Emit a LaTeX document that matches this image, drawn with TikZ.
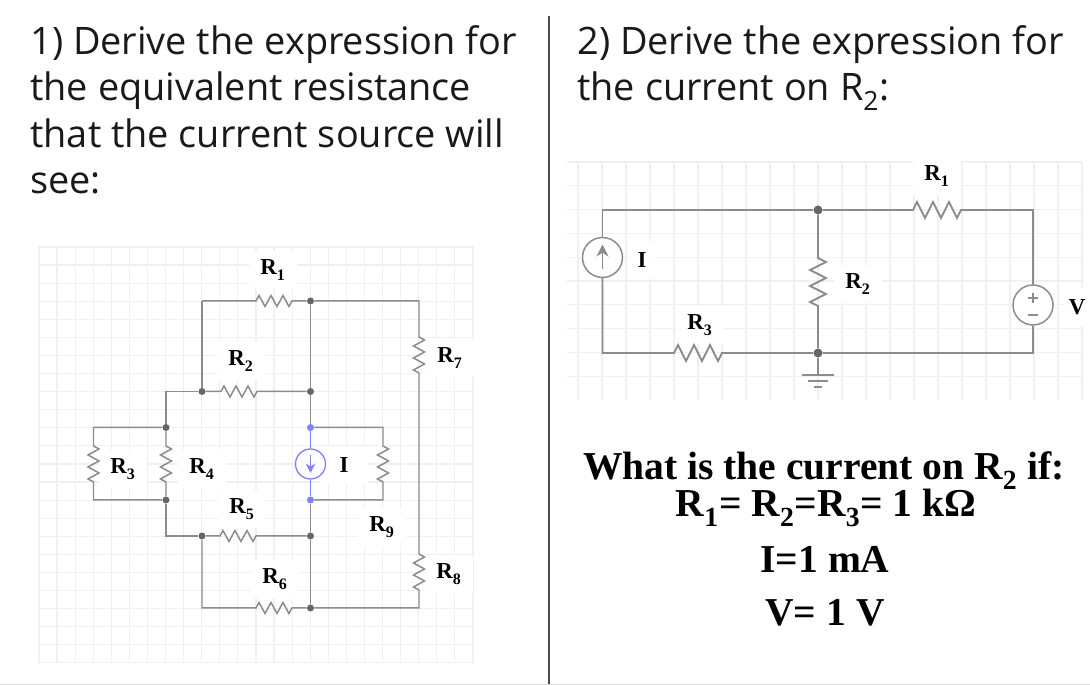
\documentclass[tikz,border=0pt]{standalone}
\usepackage{fontspec}
\usepackage{xcolor}
\usepackage{tikz}
\usetikzlibrary{decorations.pathmorphing,arrows.meta}
\setmainfont{Liberation Serif}
\newfontfamily\headfont{Open Sans}
\definecolor{wirecol}{HTML}{8C8C8C}
\definecolor{dotcol}{HTML}{666666}
\definecolor{srccol}{HTML}{8080FF}
\definecolor{gridcol}{HTML}{F0F0F0}
\tikzset{
    gridline/.style={draw=gridcol,line width=0.7pt},
    wire/.style={draw=wirecol,line width=0.85pt},
    widewire/.style={draw=wirecol,line width=1.05pt},
    bluewire/.style={draw=srccol,line width=0.85pt},
    dot/.style={circle,fill=dotcol,inner sep=0pt,minimum size=0.14cm},
    bigdot/.style={circle,fill=dotcol,inner sep=0pt,minimum size=0.18cm},
    bluedot/.style={circle,fill=srccol,inner sep=0pt,minimum size=0.14cm},
    zigsmall/.style={decoration={zigzag,segment length=0.2399cm,amplitude=0.11cm}},
    zigbig/.style={decoration={zigzag,segment length=0.3199cm,amplitude=0.16cm}},
    lab/.style={fill=white,font=\fontsize{13}{15}\selectfont\bfseries,inner sep=0pt,minimum width=0.96cm,minimum height=0.76cm,yshift=-0.04cm},
    head/.style={anchor=north west,align=left,inner sep=0pt,text=black!90,font=\fontsize{21.55}{26.4}\selectfont\headfont},
    quest/.style={anchor=base,inner sep=0pt,font=\fontsize{22.5}{25}\selectfont\bfseries},
}
\newcommand{\Dsub}[1]{\textsubscript{\raisebox{-0.3ex}{#1}}}
\newcommand{\Rsub}[1]{R\Dsub{#1}}

\begin{document}
\begin{tikzpicture}[x=0.02cm,y=-0.02cm]
    \useasboundingbox (0,0) rectangle (1090,685);
    % grids
    \foreach \i in {0,...,24} \draw[gridline] ({39+18.08*\i},247)--({39+18.08*\i},663);
    \foreach \i in {0,...,23} \draw[gridline] (39,{247+18.08*\i})--(473,{247+18.08*\i});
    \foreach \i in {0,...,21} \draw[gridline] ({578+24*\i},162)--({578+24*\i},400);
    \foreach \i in {0,...,9} \draw[gridline] (567,{162+23.8*\i})--(1082,{162+23.8*\i});

    % question text
    \node[head] (q1) at (30,25) {1) Derive the expression for\\the equivalent resistance\\that the current source will\\see:};
    \node[head] (q2) at (577,25) {2) Derive the expression for\\the current on \Rsub{2}:};
    \coordinate (divtop) at (549,16);
    \coordinate (divbot) at (549,684);
    \draw[line width=0.6pt,draw=black!70] (divtop)--(divbot);
    \coordinate (edgel) at (0,684.5);
    \coordinate (edger) at (1090,684.5);
    \draw[draw=black!15,line width=0.6pt] (edgel)--(edger);

    % first circuit labels
    \node[lab] (lr1) at (273,268) {\Rsub{1}};
    \node[lab] (lr2) at (241,359) {\Rsub{2}};
    \node[lab] (lr3) at (123,467) {\Rsub{3}};
    \node[lab] (lr4) at (202,467) {\Rsub{4}};
    \node[lab] (lr5) at (242,507) {\Rsub{5}};
    \node[lab] (lr6) at (275,577) {\Rsub{6}};
    \node[lab] (lr7) at (450,356) {\Rsub{7}};
    \node[lab] (lr8) at (449,572) {\Rsub{8}};
    \node[lab] (lr9) at (382,525) {\Rsub{9}};
    \node[lab] (li) at (344,463) {I};

    % first circuit points
    \node[dot] (n1) at (310.5,301) {};
    \node[dot] (n2) at (310.5,391.5) {};
    \node[bluedot] (b1) at (310.5,427.5) {};
    \node[bluedot] (b2) at (310.5,500) {};
    \node[dot] (n4) at (310.5,536) {};
    \node[dot] (n5) at (310.5,608) {};
    \node[dot] (n6) at (202,391.5) {};
    \node[dot] (n7) at (166,427.5) {};
    \node[dot] (n8) at (166,500) {};
    \node[dot] (n9) at (202,536) {};
    \coordinate (a1) at (202,301);
    \coordinate (c1) at (419,301);
    \coordinate (c2) at (419,608);
    \coordinate (c3) at (383,427.5);
    \coordinate (c4) at (383,500);
    \coordinate (c5) at (166,391.5);
    \coordinate (c6) at (93.5,427.5);
    \coordinate (c7) at (93.5,500);
    \coordinate (c8) at (166,536);
    \coordinate (c9) at (202,608);
    \node[circle,draw=srccol,fill=white,line width=0.75pt,inner sep=0pt,minimum size=0.6cm] (is1) at (310.5,464) {};

    % first circuit wires
    \draw[wire] (a1)--(256,301) decorate[zigsmall]{--(292,301)}--(n1);
    \draw[wire] (n1)--(n2);
    \draw[wire] (n2)--(b1);
    \draw[bluewire] (b1)--(is1);
    \draw[bluewire] (is1)--(b2);
    \draw[bluewire,-{Stealth[length=0.19cm,width=0.19cm]}] ([yshift=0.18cm]is1.center)--([yshift=-0.18cm]is1.center);
    \draw[wire] (b2)--(n4);
    \draw[wire] (n4)--(n5);
    \draw[wire] (n1)--(c1)--(419,337) decorate[zigsmall]{--(419,373)}--(419,554) decorate[zigsmall]{--(419,590)}--(c2)--(n5);
    \draw[wire] (b1)--(c3)--(383,446) decorate[zigsmall]{--(383,482)}--(c4)--(b2);
    \draw[wire] (n6)--(221,391.5) decorate[zigsmall]{--(257,391.5)}--(n2);
    \draw[wire] (n6)--(a1);
    \draw[wire] (n6)--(c5)--(n7);
    \draw[wire] (n7)--(c6)--(93.5,446) decorate[zigsmall]{--(93.5,482)}--(c7)--(n8);
    \draw[wire] (n7)--(166,446) decorate[zigsmall]{--(166,482)}--(n8);
    \draw[wire] (n8)--(c8)--(n9);
    \draw[wire] (n9)--(220,536) decorate[zigsmall]{--(256,536)}--(n4);
    \draw[wire] (n9)--(c9)--(256,608) decorate[zigsmall]{--(292,608)}--(n5);

    % second circuit labels
    \node[lab] (tr1) at (937,174) {\Rsub{1}};
    \node[lab] (tr2) at (858,282) {\Rsub{2}};
    \node[lab] (tr3) at (700,323) {\Rsub{3}};
    \node[lab,minimum width=0.5cm] (ti) at (642,258) {I};
    \node[lab,minimum width=0.5cm] (tv) at (1077,305) {V};

    % second circuit points
    \node[bigdot] (m1) at (818,210) {};
    \node[bigdot] (m2) at (818,353) {};
    \coordinate (d1) at (602.5,210);
    \coordinate (d2) at (602.5,353);
    \coordinate (d3) at (1033,210);
    \coordinate (d4) at (1033,353);
    \coordinate (gnd) at (818,375);
    \node[circle,draw=wirecol,fill=white,line width=0.85pt,inner sep=0pt,minimum size=0.8cm] (is2) at (602.5,257.5) {};
    \node[circle,draw=wirecol,fill=white,line width=0.85pt,inner sep=0pt,minimum size=0.8cm] (vs) at (1033,305) {};

    % second circuit wires
    \draw[widewire] (m1)--(d1)--(is2);
    \draw[widewire] (is2)--(d2)--(674,353) decorate[zigbig]{--(723,353)}--(m2);
    \draw[widewire,-{Stealth[length=0.24cm,width=0.24cm]}] ([yshift=-0.24cm]is2.center)--([yshift=0.26cm]is2.center);
    \draw[widewire] (m1)--(913,210) decorate[zigbig]{--(962,210)}--(d3)--(vs);
    \draw[widewire] (vs)--(d4)--(m2);
    \draw[widewire] (m1)--(818,258) decorate[zigbig]{--(818,306)}--(m2);
    \draw[widewire] (m2)--(gnd);
    \draw[wire] (802,375)--(834,375);
    \draw[wire] (808,381)--(828,381);
    \draw[wire] (814,387)--(822,387);
    \draw[wire,line width=0.6pt] (1028,298)--(1038,298) (1033,293)--(1033,303);
    \draw[wire,line width=0.6pt] (1028,315)--(1038,315);

    % values
    \node[quest] (w1) at (824,480) {What is the current on \Rsub{2} if:};
    \node[quest] (w2) at (826,517) {\Rsub{1}= \Rsub{2}=\Rsub{3}= 1 kΩ};
    \node[quest] (w3) at (825,573) {I=1 mA};
    \node[quest] (w4) at (825,626) {V= 1 V};
\end{tikzpicture}
\end{document}
